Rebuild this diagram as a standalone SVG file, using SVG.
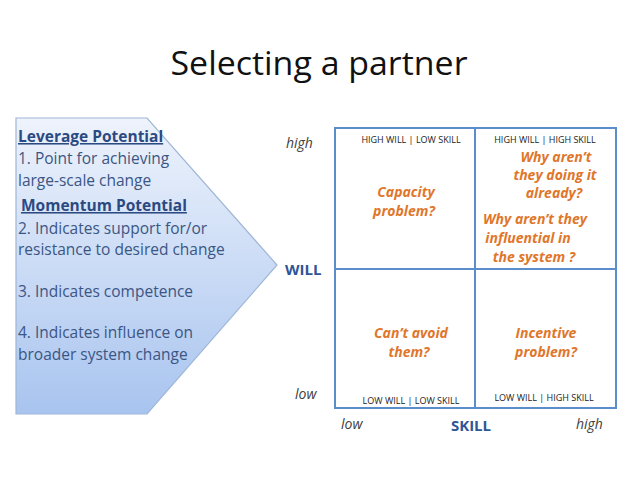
<svg xmlns="http://www.w3.org/2000/svg" width="638" height="478" viewBox="0 0 638 478">
<defs>
<linearGradient id="g" x1="0" y1="0" x2="0" y2="1">
<stop offset="0" stop-color="#eef3fc"/>
<stop offset="1" stop-color="#a8c4ef"/>
</linearGradient>
<style>
.t{font-family:"Open Sans","Liberation Sans",sans-serif;}
.body{font-size:15.5px;fill:#3b5684;}
.head{font-size:15.5px;font-weight:bold;fill:#2c4a82;text-decoration:underline;}
.ax{font-size:14px;font-style:italic;fill:#404040;}
.axb{font-size:15px;font-weight:bold;fill:#2f5597;}
.sm{font-size:9px;fill:#222;text-anchor:middle;}
.q{font-size:14px;font-weight:bold;font-style:italic;fill:#e0762a;text-anchor:middle;}
.grid{fill:none;stroke:#5b8ccb;stroke-width:2;}
</style>
</defs>
<rect width="638" height="478" fill="#ffffff"/>
<text class="t" x="319" y="75" font-size="33" fill="#111" text-anchor="middle" textLength="297" lengthAdjust="spacingAndGlyphs">Selecting a partner</text>
<g id="pentagon">
<polygon points="16,118 147,118 277,265 147,414 16,414" fill="url(#g)" stroke="#9fb6d6" stroke-width="1.2"/>
<text class="t head" x="18" y="142">Leverage Potential</text>
<text class="t body" x="18" y="164">1. Point for achieving</text>
<text class="t body" x="18" y="186">large-scale change</text>
<text class="t head" x="21" y="211">Momentum Potential</text>
<text class="t body" x="18" y="234">2. Indicates support for/or</text>
<text class="t body" x="18" y="255">resistance to desired change</text>
<text class="t body" x="18" y="297">3. Indicates competence</text>
<text class="t body" x="18" y="338">4. Indicates influence on</text>
<text class="t body" x="18" y="360">broader system change</text>
</g>
<g id="axes">
<text class="t ax" x="286" y="148">high</text>
<text class="t axb" x="285" y="275">WILL</text>
<text class="t ax" x="295" y="399">low</text>
<text class="t ax" x="341" y="429">low</text>
<text class="t axb" x="471" y="431" text-anchor="middle">SKILL</text>
<text class="t ax" x="576" y="429">high</text>
</g>
<g id="grid">
<rect class="grid" x="335" y="128" width="281" height="280"/>
<line class="grid" x1="475" y1="128" x2="475" y2="408"/>
<line class="grid" x1="335" y1="269" x2="616" y2="269"/>
</g>
<g id="q-hl">
<text class="t sm" x="411" y="143">HIGH WILL | LOW SKILL</text>
<text class="t q" x="406" y="197">Capacity</text>
<text class="t q" x="404" y="216">problem?</text>
</g>
<g id="q-hh">
<text class="t sm" x="545" y="143">HIGH WILL | HIGH SKILL</text>
<text class="t q" x="556" y="162">Why aren’t</text>
<text class="t q" x="555" y="180">they doing it</text>
<text class="t q" x="554" y="198">already?</text>
<text class="t q" x="535" y="224">Why aren’t they</text>
<text class="t q" x="528" y="243">influential in</text>
<text class="t q" x="534" y="262">the system ?</text>
</g>
<g id="q-ll">
<text class="t sm" x="411" y="404">LOW WILL | LOW SKILL</text>
<text class="t q" x="411" y="338">Can’t avoid</text>
<text class="t q" x="409" y="357">them?</text>
</g>
<g id="q-lh">
<text class="t sm" x="544" y="401">LOW WILL | HIGH SKILL</text>
<text class="t q" x="546" y="338">Incentive</text>
<text class="t q" x="546" y="357">problem?</text>
</g>
</svg>
